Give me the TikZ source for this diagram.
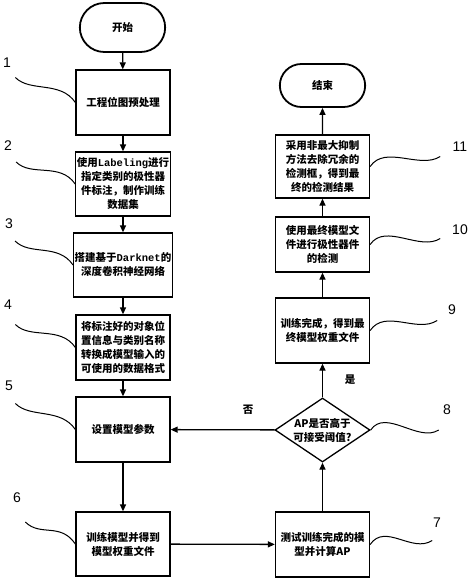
\documentclass[tikz,border=0pt]{standalone}
\usepackage{fontspec}
\setmainfont{Noto Sans CJK SC}
\newfontfamily\monofont{Liberation Mono}
\newfontfamily\numfont{Liberation Sans}
\usetikzlibrary{shapes.geometric,shapes.misc,arrows.meta}
\begin{document}
\begin{tikzpicture}[x=1pt,y=-1pt,
  font=\fontsize{10.5}{14}\selectfont\bfseries,
  box/.style={draw,line width=1.3pt,minimum width=94pt,align=center,inner sep=1pt},
  term/.style={draw,line width=1.8pt,rounded rectangle,minimum width=92pt,align=center},
  dec/.style={draw,line width=1.3pt,diamond,aspect=1.48,minimum width=95pt,minimum height=64pt,align=center,inner sep=0pt},
  arr/.style={line width=1.3pt,-{Triangle[length=7pt,width=6pt]}},
  lead/.style={line width=1pt},
  num/.style={font=\fontsize{14}{14}\selectfont\numfont},
  lbl/.style={font=\fontsize{10.5}{12}\selectfont\bfseries}]
\useasboundingbox (0,0) rectangle (474,581);
% left column
\node[term,minimum height=49pt] (start) at (122.5,27.5) {开始};
\node[box,minimum height=65pt] (b1) at (123,102.5) {工程位图预处理};
\node[box,minimum height=64pt] (b2) at (123,184) {使用{\monofont Labeling}进行\\指定类别的极性器\\件标注，制作训练\\数据集};
\node[box,minimum height=64pt] (b3) at (123,265) {搭建基于{\monofont Darknet}的\\深度卷积神经网络};
\node[box,minimum height=65pt] (b4) at (123,347.5) {将标注好的对象位\\置信息与类别名称\\转换成模型输入的\\可使用的数据格式};
\node[box,minimum height=65pt] (b5) at (123,429.5) {设置模型参数};
\node[box,minimum height=64pt] (b6) at (123,544) {训练模型并得到\\模型权重文件};
% right column
\node[term,minimum height=43pt] (end) at (322.5,85.5) {结束};
\node[box,minimum height=63pt] (b11) at (322.5,166.5) {采用非最大抑制\\方法去除冗余的\\检测框，得到最\\终的检测结果};
\node[box,minimum height=55pt] (b10) at (322.5,244.5) {使用最终模型文\\件进行极性器件\\的检测};
\node[box,minimum height=65pt] (b9) at (322.5,330.5) {训练完成，得到最\\终模型权重文件};
\node[dec] (d8) at (322.5,430) {AP是否高于\\可接受阈值?};
\node[box,minimum height=65pt] (b7) at (322.5,544.5) {测试训练完成的模\\型并计算AP};
% arrows
\draw[arr] (start) -- (b1);
\draw[arr] (b1) -- (b2);
\draw[arr] (b2) -- (b3);
\draw[arr] (b3) -- (b4);
\draw[arr] (b4) -- (b5);
\draw[arr] (b5) -- (b6);
\draw[arr] (b6) -- (b7);
\draw[arr] (b7) -- (d8);
\draw[arr] (d8) -- (b9);
\draw[arr] (b9) -- (b10);
\draw[arr] (b10) -- (b11);
\draw[arr] (b11) -- (end);
\draw[arr] (d8) -- (b5);
\node[lbl] (yes) at (350,380) {是};
\node[lbl] (no) at (248,410) {否};
% leaders left
\draw[lead] (b1.west) .. controls +(-15,-22) and +(15,15) .. ++(-60,-25);
\draw[lead] (b2.west) .. controls +(-15,-22) and +(15,15) .. ++(-59,-22);
\draw[lead] (b3.west) .. controls +(-15,-22) and +(15,15) .. ++(-58,-24);
\draw[lead] (b4.west) .. controls +(-15,-22) and +(15,15) .. ++(-60,-23);
\draw[lead] (b5.west) .. controls +(-15,-22) and +(15,15) .. ++(-60,-26);
\draw[lead] (b6.west) .. controls +(-15,-22) and +(15,15) .. ++(-50,-22);
% leaders right
\draw[lead] (b11.east) .. controls +(15,-22) and +(-20,13) .. ++(70,-10);
\draw[lead] (b10.east) .. controls +(15,-22) and +(-20,13) .. ++(70,-6);
\draw[lead] (b9.east) .. controls +(15,-22) and +(-20,13) .. ++(67,-10);
\draw[lead] (d8.east) .. controls +(15,-22) and +(-20,13) .. ++(68,0);
\draw[lead] (b7.east) .. controls +(15,-22) and +(-20,13) .. ++(62,-4);
% numbers
\node[num] (n1) at (7,63) {1};
\node[num] (n2) at (8,146) {2};
\node[num] (n3) at (9,224) {3};
\node[num] (n4) at (8,305) {4};
\node[num] (n5) at (9,386) {5};
\node[num] (n6) at (17,498) {6};
\node[num] (n11) at (460,147) {11};
\node[num] (n10) at (460,230) {10};
\node[num] (n9) at (452,310) {9};
\node[num] (n8) at (447,410) {8};
\node[num] (n7) at (437,523) {7};
\end{tikzpicture}
\end{document}
